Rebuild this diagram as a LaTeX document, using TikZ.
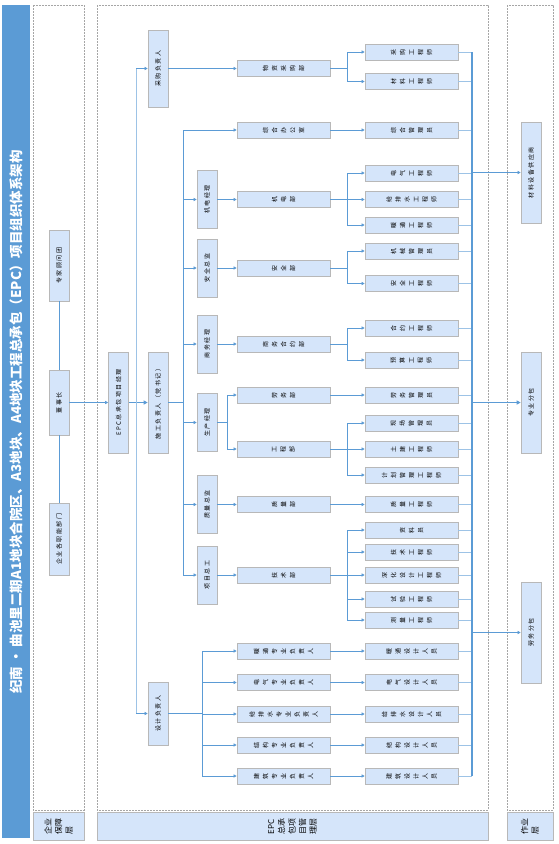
\documentclass[tikz,border=0pt]{standalone}
\usepackage{fontspec}
\setmainfont{Noto Sans CJK SC}
\newfontfamily\lsp[LetterSpace=25]{Noto Sans CJK SC}
\usetikzlibrary{shadows,arrows.meta}
\definecolor{bxfill}{HTML}{D5E5FA}
\definecolor{bxline}{HTML}{B8B8B8}
\definecolor{lnc}{HTML}{5B9BD5}
\definecolor{lnl}{HTML}{9DC3E6}
\definecolor{ttlc}{HTML}{5B9BD5}
\definecolor{dashc}{HTML}{A6A6A6}
\newcommand\TB[6]{\node[box,minimum width=#4pt,minimum height=#5pt] (#1) at (#2,#3) {};
  \node[txt,rotate=90] at (#1.center) {#6};}
\newcommand\HB[4]{\node[box,minimum width=93pt,minimum height=16pt] (#1) at (#2,#3) {};
  \node[stk,rotate=90] at (#1.center) {#4};}
\begin{document}
\begin{tikzpicture}[x=1pt,y=-1pt,
  box/.style={draw=bxline,fill=bxfill,line width=0.6pt,inner sep=0pt,
    drop shadow={shadow xshift=0.8pt,shadow yshift=-0.8pt,opacity=0.3}},
  txt/.style={inner sep=0pt,font=\lsp\fontsize{6}{8}\selectfont},
  stk/.style={inner sep=0pt,align=center,font=\fontsize{6}{9}\selectfont},
  lblbox/.style={draw=bxline,fill=bxfill,line width=0.6pt,inner sep=0pt},
  lbltxt/.style={inner sep=0pt,align=left,font=\fontsize{8}{10.5}\selectfont},
  panel/.style={draw=dashc,line width=0.5pt,dash pattern=on 2pt off 1pt},
  ln/.style={draw=lnc,line width=0.7pt},
  lnlt/.style={draw=lnl,line width=0.9pt},
  thk/.style={draw=lnc,line width=1.6pt},
  arr/.style={ln,-{Triangle[length=3.2pt,width=3.2pt]}},
  arrt/.style={thk,-{Triangle[length=4pt,width=4pt]}}]
\fill[white] (0,0) rectangle (558,844);
\useasboundingbox (0,0) rectangle (558,844);
% title bar
\fill[ttlc] (2,5) rectangle (30,838);
\node[rotate=90,text=white,inner sep=0pt,font=\bfseries\fontsize{13.5}{14}\selectfont] (ttl) at (16,422)
  {纪南 · 曲池里二期A1地块合院区、A3地块、A4地块工程总承包（EPC）项目组织体系架构};
% panels
\draw[panel] (33,5) rectangle (84,810);
\draw[panel] (97,5) rectangle (488,810);
\draw[panel] (507,5) rectangle (553,810);
\node[lblbox,minimum width=51pt,minimum height=28pt] (L1) at (58.5,826) {};
\node[lbltxt,rotate=90] at (L1.center) {企业\\保障\\层};
\node[lblbox,minimum width=391pt,minimum height=28pt] (L2) at (292.5,826) {};
\node[lbltxt,rotate=90] at (L2.center) {EPC\\总承\\包项\\目管\\理层};
\node[lblbox,minimum width=46pt,minimum height=28pt] (L3) at (530,826) {};
\node[lbltxt,rotate=90] at (L3.center) {作业\\层};
% layer A
\TB{zj}{59}{265.5}{20}{71}{专家顾问团}
\TB{dsz}{59}{402.5}{20}{65}{董事长}
\TB{qy}{59}{539}{20}{72}{企业各职能部门}
% layer B
\TB{pm}{118.5}{402.5}{20}{101}{EPC总承包项目经理}
% layer C
\TB{cg}{158}{68.5}{20}{77}{采购负责人}
\TB{sg}{158}{402.5}{20}{101}{施工负责人（党书记）}
\TB{sj}{158}{713.5}{20}{63}{设计负责人}
% layer D
\TB{jd}{207}{199.5}{20}{58}{机电经理}
\TB{aq}{207}{268}{20}{58}{安全总监}
\TB{sw}{207}{344}{20}{58}{商务经理}
\TB{sc}{207}{422.5}{20}{58}{生产经理}
\TB{zl}{207}{504.5}{20}{58}{质量总监}
\TB{zg}{207}{575}{20}{58}{项目总工}
% layer E
\HB{e1}{283.5}{68.5}{物\\资\\采\\购\\部}
\HB{e2}{283.5}{130}{综\\合\\办\\公\\室}
\HB{e3}{283.5}{199.5}{机\\电\\部}
\HB{e4}{283.5}{268}{安\\全\\部}
\HB{e5}{283.5}{344}{商\\务\\合\\约\\部}
\HB{e6}{283.5}{395}{劳\\务\\部}
\HB{e7}{283.5}{449}{工\\程\\部}
\HB{e8}{283.5}{504.5}{质\\量\\部}
\HB{e9}{283.5}{575}{技\\术\\部}
\HB{e10}{283.5}{651}{暖\\通\\专\\业\\负\\责\\人}
\HB{e11}{283.5}{682.5}{电\\气\\专\\业\\负\\责\\人}
\HB{e12}{283.5}{714}{给\\排\\水\\专\\业\\负\\责\\人}
\HB{e13}{283.5}{745}{结\\构\\专\\业\\负\\责\\人}
\HB{e14}{283.5}{776}{建\\筑\\专\\业\\负\\责\\人}
% layer F
\HB{f1}{411.5}{52}{采\\购\\工\\程\\师}
\HB{f2}{411.5}{81.5}{材\\料\\工\\程\\师}
\HB{f3}{411.5}{130}{综\\合\\管\\理\\员}
\HB{f4}{411.5}{173}{电\\气\\工\\程\\师}
\HB{f5}{411.5}{199.5}{给\\排\\水\\工\\程\\师}
\HB{f6}{411.5}{225}{暖\\通\\工\\程\\师}
\HB{f7}{411.5}{251}{机\\械\\管\\理\\员}
\HB{f8}{411.5}{283.5}{安\\全\\工\\程\\师}
\HB{f9}{411.5}{328}{合\\约\\工\\程\\师}
\HB{f10}{411.5}{360}{预\\算\\工\\程\\师}
\HB{f11}{411.5}{395}{劳\\务\\管\\理\\员}
\HB{f12}{411.5}{423}{现\\场\\管\\理\\员}
\HB{f13}{411.5}{449}{土\\建\\工\\程\\师}
\HB{f14}{411.5}{475}{计\\划\\管\\理\\工\\程\\师}
\HB{f15}{411.5}{504.5}{质\\量\\工\\程\\师}
\HB{f16}{411.5}{530}{资\\料\\员}
\HB{f17}{411.5}{552}{技\\术\\工\\程\\师}
\HB{f18}{411.5}{575}{深\\化\\设\\计\\工\\程\\师}
\HB{f19}{411.5}{599}{试\\验\\工\\程\\师}
\HB{f20}{411.5}{620}{测\\量\\工\\程\\师}
\HB{f21}{411.5}{651}{暖\\通\\设\\计\\人\\员}
\HB{f22}{411.5}{682.5}{电\\气\\设\\计\\人\\员}
\HB{f23}{411.5}{714}{给\\排\\水\\设\\计\\人\\员}
\HB{f24}{411.5}{745}{结\\构\\设\\计\\人\\员}
\HB{f25}{411.5}{776}{建\\筑\\设\\计\\人\\员}
% layer G
\TB{g1}{531}{172.5}{20}{101}{材料设备供应商}
\TB{g2}{531}{402.5}{20}{101}{专业分包}
\TB{g3}{531}{632.5}{20}{101}{劳务分包}
% connectors A
\draw[ln] (zj.south) -- (dsz.north);
\draw[ln] (dsz.south) -- (qy.north);
\draw[arr] (dsz.east) -- (pm.west);
% B -> C
\draw[arrt] (pm.east) -- (sg.west);
\coordinate (t1) at (136,402.5);
\draw[lnlt] (t1 |- cg.west) -- (t1 |- sj.west);
\draw[arr] (t1 |- cg.west) -- (cg.west);
\draw[arr] (t1 |- sj.west) -- (sj.west);
% C -> D
\coordinate (t2) at (183,402.5);
\draw[thk] (sg.east) -- (t2);
\draw[ln] (t2 |- e2.west) -- (t2 |- zg.west);
\draw[arr] (t2 |- e2.west) -- (e2.west);
\foreach \n in {jd,aq,sw,sc,zl,zg} \draw[arr] (t2 |- \n.west) -- (\n.west);
\draw[arr] (cg.east) -- (e1.west);
% D -> E
\foreach \a/\b in {jd/e3,aq/e4,sw/e5,zl/e8,zg/e9} \draw[arr] (\a.east) -- (\b.west);
\coordinate (t3) at (227,422.5);
\draw[ln] (sc.east) -- (t3);
\draw[ln] (t3 |- e6.west) -- (t3 |- e7.west);
\draw[arr] (t3 |- e6.west) -- (e6.west);
\draw[arr] (t3 |- e7.west) -- (e7.west);
\coordinate (t4) at (202,713.5);
\draw[thk] (sj.east) -- (t4);
\draw[ln] (t4 |- e10.west) -- (t4 |- e14.west);
\foreach \n in {e10,e11,e12,e13,e14} \draw[arr] (t4 |- \n.west) -- (\n.west);
% E -> F
\coordinate (bk) at (347,0);
\draw[ln] (e1.east) -- (e1.east -| bk);
\draw[ln] (bk |- f1.west) -- (bk |- f2.west);
\foreach \n in {f1,f2} \draw[arr] (bk |- \n.west) -- (\n.west);
\draw[arr] (e2.east) -- (f3.west);
\draw[ln] (e3.east) -- (e3.east -| bk);
\draw[ln] (bk |- f4.west) -- (bk |- f6.west);
\foreach \n in {f4,f5,f6} \draw[arr] (bk |- \n.west) -- (\n.west);
\draw[ln] (e4.east) -- (e4.east -| bk);
\draw[ln] (bk |- f7.west) -- (bk |- f8.west);
\foreach \n in {f7,f8} \draw[arr] (bk |- \n.west) -- (\n.west);
\draw[ln] (e5.east) -- (e5.east -| bk);
\draw[ln] (bk |- f9.west) -- (bk |- f10.west);
\foreach \n in {f9,f10} \draw[arr] (bk |- \n.west) -- (\n.west);
\draw[arr] (e6.east) -- (f11.west);
\draw[ln] (e7.east) -- (e7.east -| bk);
\draw[ln] (bk |- f12.west) -- (bk |- f14.west);
\foreach \n in {f12,f13,f14} \draw[arr] (bk |- \n.west) -- (\n.west);
\draw[arr] (e8.east) -- (f15.west);
\draw[ln] (e9.east) -- (e9.east -| bk);
\draw[ln] (bk |- f16.west) -- (bk |- f20.west);
\foreach \n in {f16,f17,f18,f19,f20} \draw[arr] (bk |- \n.west) -- (\n.west);
\foreach \a/\b in {e10/f21,e11/f22,e12/f23,e13/f24,e14/f25} \draw[arr] (\a.east) -- (\b.west);
% F -> G
\coordinate (bg) at (472,0);
\foreach \n in {f1,f2,f3,f4,f5,f6,f7,f8,f9,f10,f11,f12,f13,f14,f15,f16,f17,f18,f19,f20,f21,f22,f23,f24,f25}
  \draw[lnlt] (\n.east) -- (\n.east -| bg);
\draw[thk] (bg |- f1.east) -- (bg |- f25.east);
\draw[arr] (bg |- g1.west) -- (g1.west);
\draw[arrt] (bg |- g2.west) -- (g2.west);
\draw[arr] (bg |- g3.west) -- (g3.west);
\end{tikzpicture}
\end{document}
